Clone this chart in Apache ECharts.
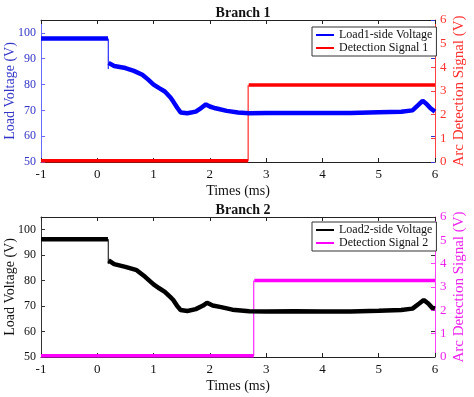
<!DOCTYPE html>
<html>
<head>
<meta charset="utf-8">
<script src="https://cdn.jsdelivr.net/npm/echarts@6/dist/echarts.min.js"></script>
<style>
  html, body { margin: 0; padding: 0; background: #fff; }
  #main { width: 474px; height: 397px; }
</style>
</head>
<body>
<div id="main"></div>
<script>
// ---- data ----
var titles = ['Branch 1', 'Branch 2'];
var voltNames = ['Load1-side Voltage', 'Load2-side Voltage'];
var sigNames = ['Detection Signal 1', 'Detection Signal 2'];

// branch 1 voltage: flat part before the fault, then the decay after it
var v1PreT = [-1, 0.19];
var v1PreV = [97.8, 97.8];
var v1PostT = [0.2, 0.3, 0.5, 0.65, 0.8, 0.9, 1.0, 1.1, 1.2, 1.3, 1.35, 1.42, 1.48, 1.6, 1.75, 1.85, 1.93, 2.0, 2.1, 2.3, 2.5, 2.7, 3, 3.5, 4, 4.5, 5, 5.4, 5.6, 5.7, 5.78, 5.85, 5.92, 6];
var v1PostV = [88.4, 87.2, 86.4, 85.3, 83.8, 82, 80, 78.6, 77.3, 75, 73.4, 71, 69.2, 68.9, 69.5, 71, 72.3, 71.5, 70.8, 69.8, 69.2, 68.9, 69, 69, 69, 69, 69.3, 69.5, 70, 72, 73.7, 72.5, 70.8, 69.5];
var v1DropT = [0.195, 0.195];
var v1DropV = [97.8, 86];

// branch 1 detection signal
var s1LowT = [-1, 2.68];
var s1LowV = [0.05, 0.05];
var s1HighT = [2.69, 6];
var s1HighV = [3.25, 3.25];

// branch 2 voltage
var v2PreT = [-1, 0.19];
var v2PreV = [96.3, 96.3];
var v2PostT = [0.2, 0.3, 0.5, 0.7, 0.85, 1.0, 1.1, 1.2, 1.3, 1.35, 1.42, 1.48, 1.6, 1.75, 1.88, 1.95, 2.05, 2.2, 2.4, 2.7, 3, 3.5, 4, 4.5, 5, 5.4, 5.6, 5.72, 5.8, 5.88, 5.95, 6];
var v2PostV = [88, 86.5, 85.4, 84.1, 81.5, 78.5, 77, 75.6, 73.5, 72.4, 70, 68.5, 68.1, 68.8, 70.2, 71.3, 70.2, 69.6, 68.6, 68, 67.9, 68, 67.9, 67.9, 68.2, 68.5, 69, 71, 72.4, 71, 69.3, 69];
var v2DropT = [0.195, 0.195];
var v2DropV = [96.3, 86.5];

// branch 2 detection signal
var s2LowT = [-1, 2.78];
var s2LowV = [0.05, 0.05];
var s2HighT = [2.79, 6];
var s2HighV = [3.28, 3.28];

var xTicks = [-1, 0, 1, 2, 3, 4, 5, 6];

var pairs = function (t, v) {
    return t.map(function (x, i) { return [x, v[i]]; });
};

var FONT = 'Liberation Serif';

var makeX = function (gi, top) {
    return {
        type: 'value', gridIndex: gi, min: xTicks[0], max: xTicks[xTicks.length - 1], interval: 1,
        position: top ? 'top' : 'bottom',
        name: top ? '' : 'Times (ms)', nameLocation: 'middle', nameGap: 22, nameMoveOverlap: false,
        nameTextStyle: { fontFamily: FONT, fontSize: 14, color: '#111' },
        axisLine: { show: true, onZero: false, lineStyle: { color: '#222', width: 1 } },
        axisTick: { show: true, inside: true, length: 4, lineStyle: { color: '#222' } },
        axisLabel: { show: !top, fontFamily: FONT, fontSize: 13, color: '#111', margin: 6 },
        splitLine: { show: false }
    };
};

var makeYL = function (gi, labelColor, lineColor) {
    return {
        type: 'value', gridIndex: gi, min: 50, max: 105, interval: 10, position: 'left',
        name: 'Load Voltage (V)', nameLocation: 'middle', nameGap: 24, nameRotate: 90, nameMoveOverlap: false,
        nameTextStyle: { fontFamily: FONT, fontSize: 14, color: labelColor },
        axisLine: { show: true, onZero: false, lineStyle: { color: lineColor, width: 1 } },
        axisTick: { show: true, inside: true, length: 4, lineStyle: { color: lineColor } },
        axisLabel: { fontFamily: FONT, fontSize: 12, color: labelColor, margin: 5, showMaxLabel: false },
        splitLine: { show: false }
    };
};

var makeYR = function (gi, labelColor, lineColor) {
    return {
        type: 'value', gridIndex: gi, min: 0, max: 6, interval: 1, position: 'right',
        name: 'Arc Detection Signal (V)', nameLocation: 'middle', nameGap: 17, nameRotate: 90, nameMoveOverlap: false,
        nameTextStyle: { fontFamily: FONT, fontSize: 15, color: labelColor },
        axisLine: { show: true, onZero: false, lineStyle: { color: lineColor, width: 1 } },
        axisTick: { show: true, inside: true, length: 4, lineStyle: { color: lineColor } },
        axisLabel: { fontFamily: FONT, fontSize: 13, color: labelColor, margin: 5 },
        splitLine: { show: false }
    };
};

// mirrored left-axis ticks on the right side
var makeYMirror = function (gi, color) {
    return {
        type: 'value', gridIndex: gi, min: 50, max: 105, interval: 10, position: 'right',
        axisLine: { show: false, onZero: false },
        axisTick: { show: true, inside: true, length: 4, lineStyle: { color: color } },
        axisLabel: { show: false },
        splitLine: { show: false }
    };
};

var lineSeries = function (name, xi, yi, data, color, width) {
    return {
        name: name, type: 'line', xAxisIndex: xi, yAxisIndex: yi, data: data,
        symbol: 'none', silent: true, animation: false,
        lineStyle: { color: color, width: width }, itemStyle: { color: color }
    };
};

var legendBox = function (top, names, colors) {
    return {
        left: 312, top: top, orient: 'vertical', itemGap: 1,
        padding: [2, 4, 2, 4], backgroundColor: '#fff', borderColor: '#333', borderWidth: 1,
        itemWidth: 18, itemHeight: 2, icon: 'rect',
        textStyle: { fontFamily: FONT, fontSize: 12, color: '#111' },
        data: [
            { name: names[0], itemStyle: { color: colors[0] } },
            { name: names[1], itemStyle: { color: colors[1] } }
        ]
    };
};

var BLUE = '#0000ff', RED = '#ff0000', BLACK = '#000000', MAG = '#ff00ff';

var option = {
    backgroundColor: '#fff',
    animation: false,
    title: [
        { text: titles[0], left: 238, top: 1, textAlign: 'center',
          textStyle: { fontFamily: FONT, fontSize: 14, fontWeight: 'bold', color: '#111' } },
        { text: titles[1], left: 238, top: 198, textAlign: 'center',
          textStyle: { fontFamily: FONT, fontSize: 14, fontWeight: 'bold', color: '#111' } }
    ],
    legend: [
        legendBox(27, [voltNames[0], sigNames[0]], [BLUE, RED]),
        legendBox(222, [voltNames[1], sigNames[1]], [BLACK, MAG])
    ],
    grid: [
        { left: 41, right: 39, top: 20, height: 142, containLabel: false, outerBoundsMode: 'none' },
        { left: 41, right: 39, top: 217, height: 140, containLabel: false, outerBoundsMode: 'none' }
    ],
    xAxis: [makeX(0, false), makeX(0, true), makeX(1, false), makeX(1, true)],
    yAxis: [
        makeYL(0, '#3535c8', '#6a6aff'),
        makeYR(0, '#ff3030', '#ff4040'),
        makeYMirror(0, '#3535c8'),
        makeYL(1, '#111', '#333'),
        makeYR(1, '#ee22ee', '#ff40ff'),
        makeYMirror(1, '#333')
    ],
    series: [
        lineSeries(sigNames[0], 0, 1, pairs(s1LowT, s1LowV), RED, 3.5),
        lineSeries(sigNames[0], 0, 1, pairs(s1HighT, s1HighV), RED, 3.5),
        lineSeries('s1edge', 0, 1, [[s1LowT[1], s1LowV[1]], [s1LowT[1], s1HighV[0]]], RED, 1),
        lineSeries(voltNames[0], 0, 0, pairs(v1PreT, v1PreV), BLUE, 4.5),
        lineSeries(voltNames[0], 0, 0, pairs(v1PostT, v1PostV), BLUE, 4.5),
        lineSeries('v1edge', 0, 0, pairs(v1DropT, v1DropV), BLUE, 1),

        lineSeries(sigNames[1], 2, 4, pairs(s2LowT, s2LowV), MAG, 3.5),
        lineSeries(sigNames[1], 2, 4, pairs(s2HighT, s2HighV), MAG, 3.5),
        lineSeries('s2edge', 2, 4, [[s2LowT[1], s2LowV[1]], [s2LowT[1], s2HighV[0]]], MAG, 1),
        lineSeries(voltNames[1], 2, 3, pairs(v2PreT, v2PreV), BLACK, 4.5),
        lineSeries(voltNames[1], 2, 3, pairs(v2PostT, v2PostV), BLACK, 4.5),
        lineSeries('v2edge', 2, 3, pairs(v2DropT, v2DropV), BLACK, 1)
    ]
};

var chart = echarts.init(document.getElementById('main'), null, { renderer: 'canvas' });
chart.setOption(option);
</script>
</body>
</html>
